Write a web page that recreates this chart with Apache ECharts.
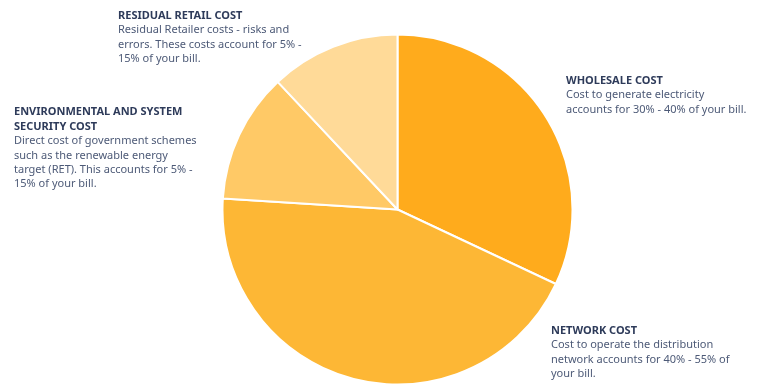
<!DOCTYPE html>
<html><head><meta charset="utf-8">
<script src="https://cdn.jsdelivr.net/npm/echarts@6/dist/echarts.min.js"></script>
<style>html,body{margin:0;padding:0;background:#fff}#c{width:768px;height:387px}</style>
</head><body><div id="c"></div>
<script>
const categories = ['WHOLESALE COST', 'NETWORK COST', 'ENVIRONMENTAL AND SYSTEM\nSECURITY COST', 'RESIDUAL RETAIL COST'];
const values = [32, 44, 12, 12];
const descriptions = [
  'Cost to generate electricity\naccounts for 30% - 40% of your bill.',
  'Cost to operate the distribution\nnetwork accounts for 40% - 55% of\nyour bill.',
  'Direct cost of government schemes\nsuch as the renewable energy\ntarget (RET). This accounts for 5% -\n15% of your bill.',
  'Residual Retailer costs - risks and\nerrors. These costs account for 5% -\n15% of your bill.'
];
const colors = ['#FFAB1C', '#FDB735', '#FFC966', '#FFDA98'];
const labelPos = [[566, 73], [551, 323], [14, 104], [118, 8]];

const chart = echarts.init(document.getElementById('c'));
const fam = '"Noto Sans", sans-serif';
chart.setOption({
  animation: false,
  series: [{
    type: 'pie',
    center: [397.5, 209.5],
    radius: 175,
    startAngle: 90,
    clockwise: true,
    itemStyle: { borderColor: '#fff', borderWidth: 2 },
    emphasis: { disabled: true },
    labelLine: { show: false },
    label: {
      show: true,
      overflow: 'none',
      width: 260,
      formatter: p => {
        const t = p.name.split('\n').map(s => '{t|' + s + '}').join('\n');
        const d = descriptions[p.dataIndex].split('\n').map(s => '{d|' + s + '}').join('\n');
        return t + '\n' + d;
      },
      rich: {
        t: { fontFamily: fam, fontSize: 11, fontWeight: 'bold', color: '#2E3B5A', lineHeight: 15 },
        d: { fontFamily: fam, fontSize: 11, color: '#4D5A77', lineHeight: 14.3 }
      }
    },
    labelLayout: p => ({ x: labelPos[p.dataIndex][0], y: labelPos[p.dataIndex][1], align: 'left', verticalAlign: 'top', width: 260 }),
    data: categories.map((c, i) => ({ name: c, value: values[i], itemStyle: { color: colors[i] } }))
  }]
});
</script></body></html>
